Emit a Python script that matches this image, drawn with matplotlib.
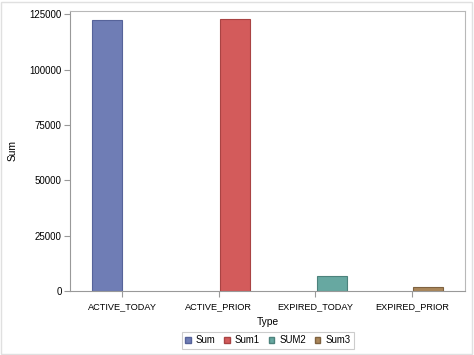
import numpy as np
import matplotlib
matplotlib.use("Agg")
import matplotlib.pyplot as plt
from matplotlib.patches import Patch, Rectangle

plt.rcParams['font.family'] = ['Liberation Sans', 'DejaVu Sans']

types = ['ACTIVE_TODAY', 'ACTIVE_PRIOR', 'EXPIRED_TODAY', 'EXPIRED_PRIOR']
series = ['Sum', 'Sum1', 'SUM2', 'Sum3']
values = [122400, 122800, 6800, 1800]
offsets = [-0.16, 0.17, 0.17, 0.17]
colors = ['#6F7DB5', '#D35B5B', '#67A8A1', '#AA865A']
edges = ['#56639A', '#A94343', '#4C827C', '#7F6240']

fig = plt.figure(figsize=(4.74, 3.55), dpi=100)
ax = fig.add_axes([0.148, 0.18, 0.833, 0.79])

x = np.arange(len(types))
for i in range(len(types)):
    ax.bar(x[i] + offsets[i], values[i], width=0.31, color=colors[i],
           edgecolor=edges[i], linewidth=0.8)

ax.set_xlim(-0.54, 3.55)
ax.set_ylim(0, 126700)
ax.set_xticks(x)
ax.set_xticklabels(types, fontsize=6.6)
ax.set_yticks([0, 25000, 50000, 75000, 100000, 125000])
ax.set_yticklabels(['0', '25000', '50000', '75000', '100000', '125000'], fontsize=7)
ax.tick_params(color='#999999', length=4, width=0.8, pad=2)
ax.tick_params(axis='x', pad=4)
for s in ax.spines.values():
    s.set_color('#b8b8b8')
    s.set_linewidth(0.8)
ax.spines['left'].set_color('#999999')
ax.spines['bottom'].set_color('#999999')
ax.set_xlabel('Type', fontsize=7.4, labelpad=4)
ax.set_ylabel('Sum', fontsize=7.4)
ax.yaxis.set_label_coords(-0.133, 0.5)

handles = [Patch(facecolor=colors[i], edgecolor=edges[i], label=series[i]) for i in range(4)]
leg = fig.legend(handles=handles, loc='center', bbox_to_anchor=(0.565, 0.041), ncol=4,
                 fontsize=6.9, frameon=True, fancybox=False, handlelength=0.6,
                 handleheight=0.6, handletextpad=0.5, columnspacing=0.9,
                 borderpad=0.35)
leg.get_frame().set_edgecolor('#c0c0c0')
leg.get_frame().set_linewidth(0.8)

fig.patches.append(Rectangle((0.003, 0.003), 0.992, 0.992, transform=fig.transFigure,
                             fill=False, edgecolor='#e0e0e0', linewidth=1))

fig.savefig('out.png', dpi=100)
